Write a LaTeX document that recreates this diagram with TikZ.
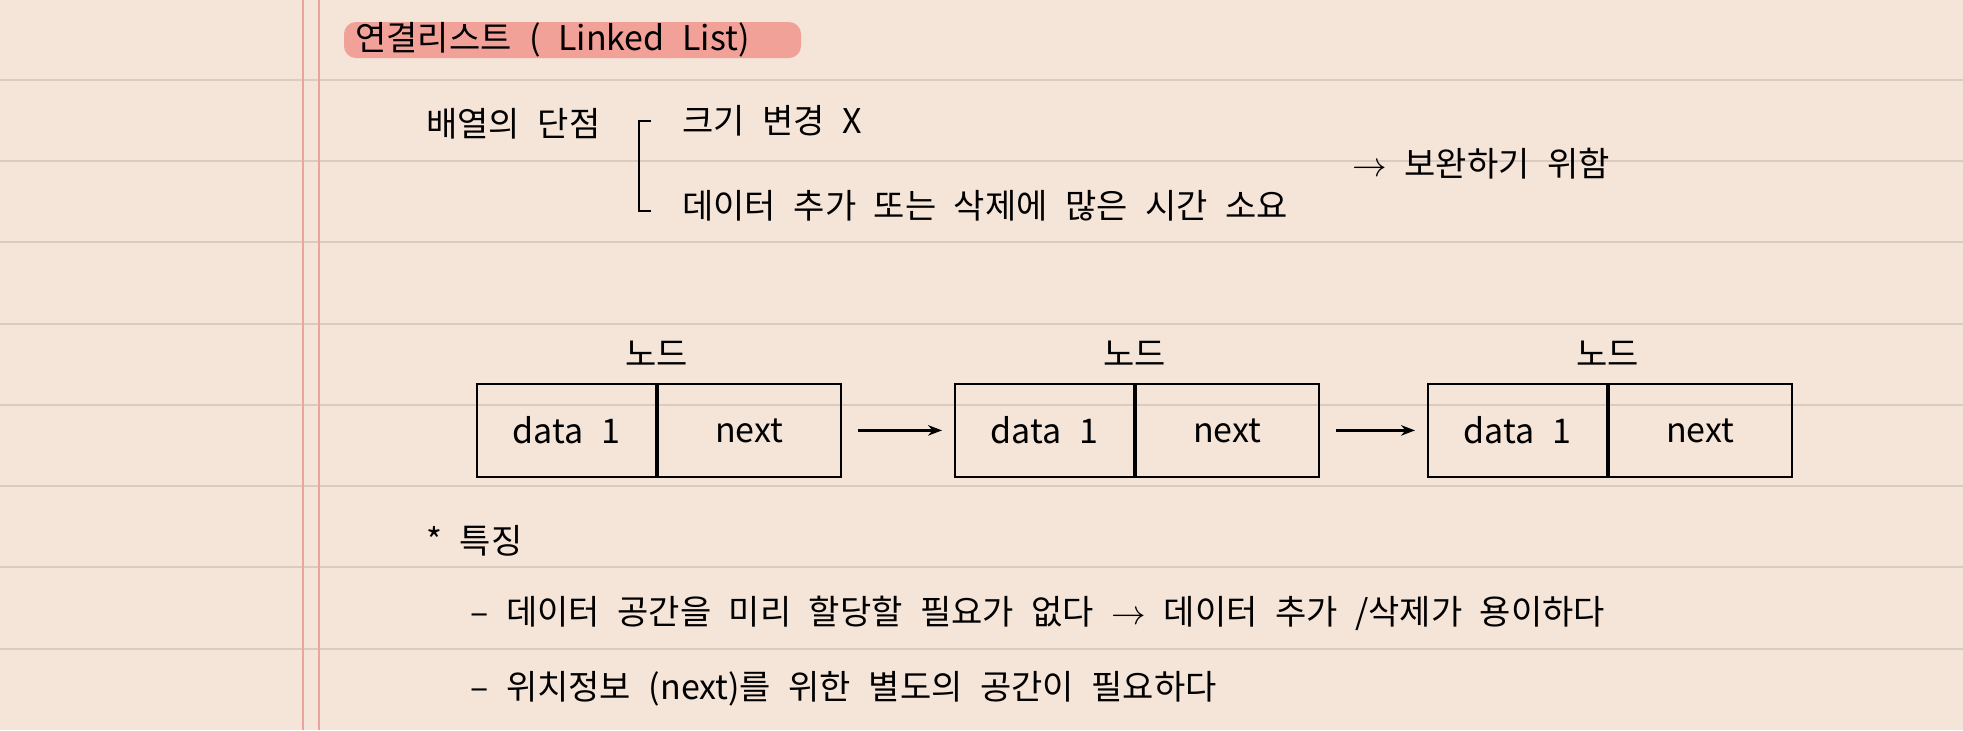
\documentclass[tikz,border=0pt]{standalone}
\usepackage{fontspec}
\setmainfont[WordSpace=2.3]{Noto Sans CJK KR}
\usetikzlibrary{arrows.meta}
\definecolor{paper}{HTML}{F5E4D8}
\definecolor{rule}{HTML}{D9CBC2}
\definecolor{margin}{HTML}{EBA3A0}
\definecolor{hl}{HTML}{F2A198}
\tikzset{x=0.5pt,y=-0.5pt,
 txt/.style={anchor=west,inner sep=0pt,font=\fontsize{17}{20}\selectfont},
 cell/.style={draw,line width=0.9pt,minimum height=46.5pt,inner sep=0pt,font=\fontsize{17}{20}\selectfont},
 arr/.style={-{Stealth[length=7pt]},line width=1.1pt}}
\begin{document}
\begin{tikzpicture}
\fill[paper] (0,0) rectangle (1963,730);
\useasboundingbox (0,0) rectangle (1963,730);
\foreach \y in {80,161,242,323.5,405,486,567,648.5}
  \draw[rule,line width=1pt] (0,\y) -- (1963,\y);
\draw[margin,line width=1.3pt] (303,0) -- (303,730);
\draw[margin,line width=1.3pt] (319,0) -- (319,730);
\fill[hl,rounded corners=6pt] (344,22) rectangle (801,58);
\node[txt] (title) at (355,40) {연결리스트 ( Linked List)};
\node[txt] (weak) at (426,124) {배열의 단점};
\draw[line width=1.2pt] (651,121) -- (639,121) -- (639,211) -- (651,211);
\node[txt] (w1) at (682,121) {크기 변경 X};
\node[txt] (w2) at (682,206) {데이터 추가 또는 삭제에 많은 시간 소요};
\node[txt] (why) at (1352,164) {$\rightarrow$ 보완하기 위함};
\foreach \i/\x in {1/476,2/954,3/1427}{
  \node[cell,minimum width=89.5pt,anchor=north west] (d\i) at (\x,383) {data 1};
  \node[cell,minimum width=91.5pt,anchor=west] (n\i) at (d\i.east) {next};
  \node[inner sep=0pt,font=\fontsize{17}{20}\selectfont,anchor=south] (l\i) at (d\i.north east) [yshift=8pt] {노드};
}
\draw[arr] ([xshift=8pt]n1.east) -- ([xshift=-6pt]d2.west);
\draw[arr] ([xshift=8pt]n2.east) -- ([xshift=-6pt]d3.west);
\node[txt] (feat) at (426,541) {* 특징};
\node[txt] (f1) at (470,613) {– 데이터 공간을 미리 할당할 필요가 없다 $\rightarrow$ 데이터 추가 /삭제가 용이하다};
\node[txt] (f2) at (470,689) {– 위치정보 (next)를 위한 별도의 공간이 필요하다};
\end{tikzpicture}
\end{document}
